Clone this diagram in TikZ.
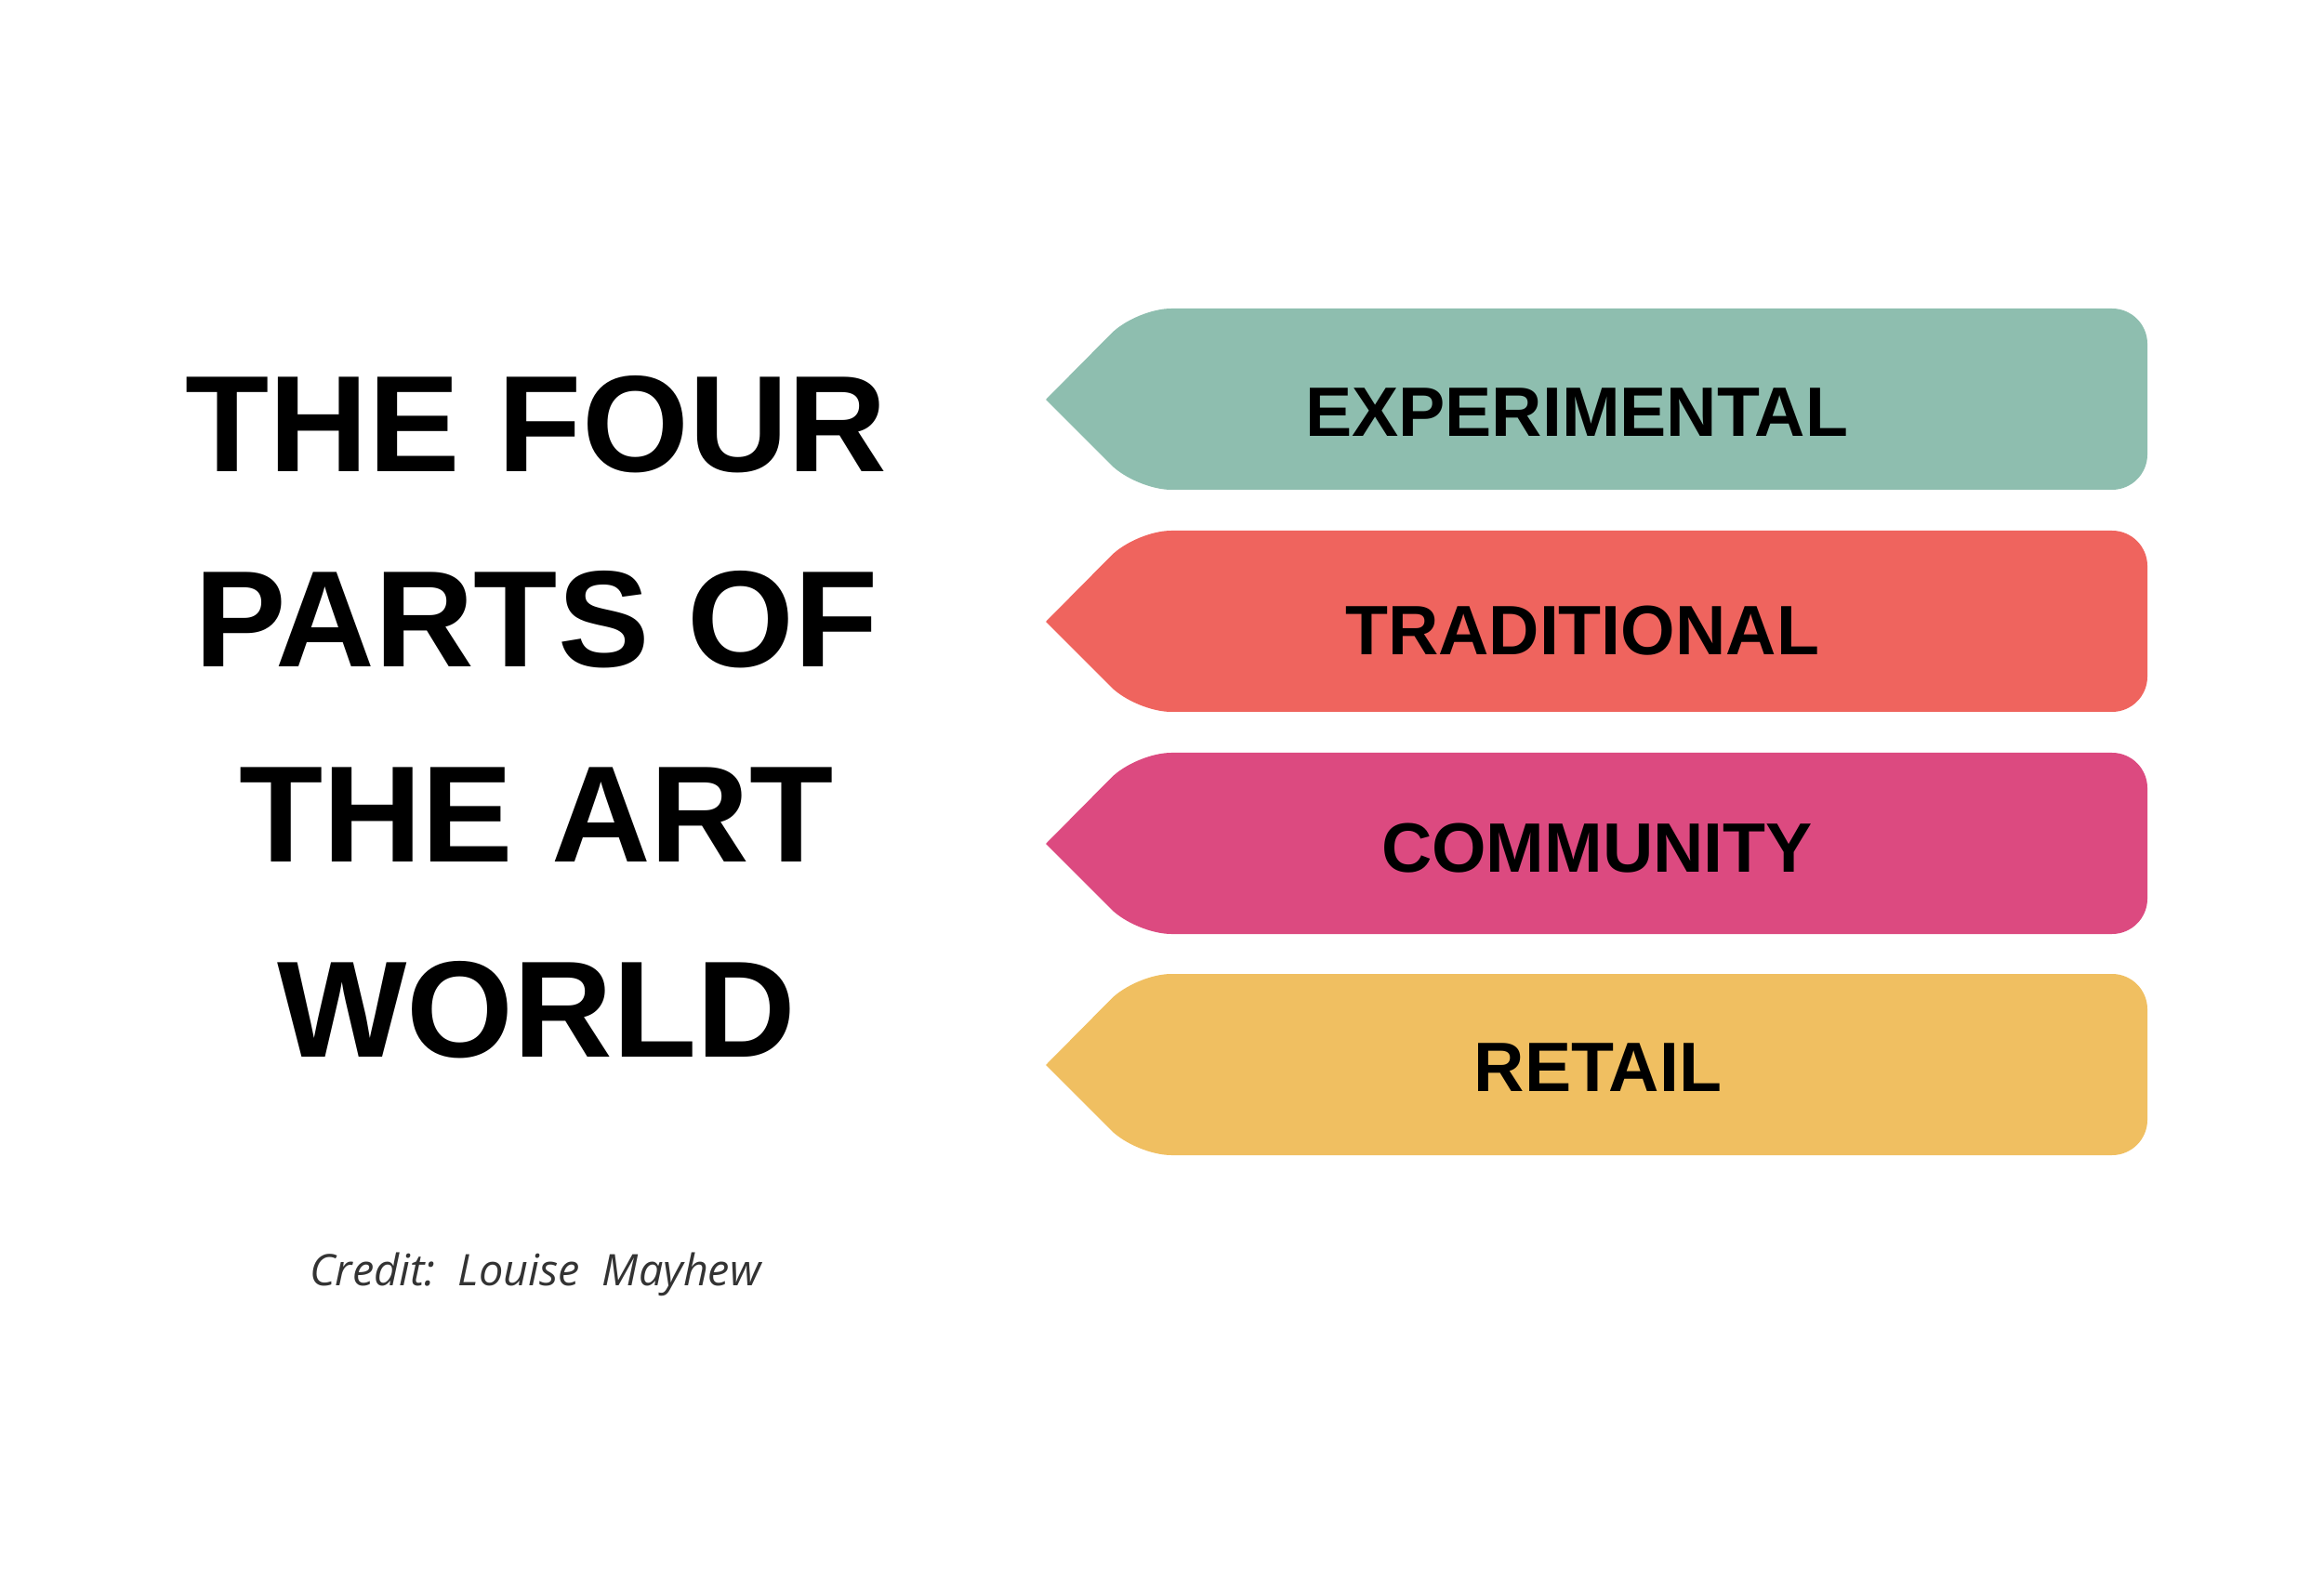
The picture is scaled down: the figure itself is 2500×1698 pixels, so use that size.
\documentclass[tikz,border=0pt]{standalone}
\usepackage{fontspec}
\setmainfont{Liberation Sans}
\newfontfamily\creditfont{Open Sans}
\definecolor{expgreen}{HTML}{8EBEAF}
\definecolor{tradred}{HTML}{EF645E}
\definecolor{commpink}{HTML}{DC4A80}
\definecolor{retailyellow}{HTML}{F0BF61}
\definecolor{creditgrey}{HTML}{333333}
\tikzset{
  titletext/.style={font=\fontsize{42}{59.7}\selectfont\bfseries, align=center, inner sep=0pt},
  partlabel/.style={font=\fontsize{21.4}{24}\selectfont\bfseries, inner sep=0pt},
  credittext/.style={font=\creditfont\itshape\fontsize{13.3}{15}\selectfont, text=creditgrey, inner sep=0pt, anchor=base}
}

\begin{document}
\begin{tikzpicture}[x=0.01cm,y=-0.01cm]
            \useasboundingbox (0,0) rectangle (2500,1698);
            % title
            \node[titletext] (title) at (577,772) {THE FOUR\\PARTS OF\\THE ART\\WORLD};
            \node[credittext] (credit) at (576,1383) {Credit:\ \ Louise\ \ Mayhew};
            % the four parts
            \foreach \c/\col/\lx/\ly/\txt [count=\i] in {430/expgreen/1696/444/EXPERIMENTAL,
                669/tradred/1702/679/TRADITIONAL,
                908/commpink/1718/913/COMMUNITY,
                1146/retailyellow/1719/1149/RETAIL}
            {
                \coordinate (tip\i) at (1125,\c);
                \fill[\col] (tip\i) [rounded corners=0.38cm] -- (1222,\c-98) -- (2310,\c-98)
                    -- (2310,\c+97) -- (1222,\c+97) [sharp corners] -- cycle;
                \node[partlabel] (part\i) at (\lx,\ly) {\txt};
            }
        \end{tikzpicture}
\end{document}
